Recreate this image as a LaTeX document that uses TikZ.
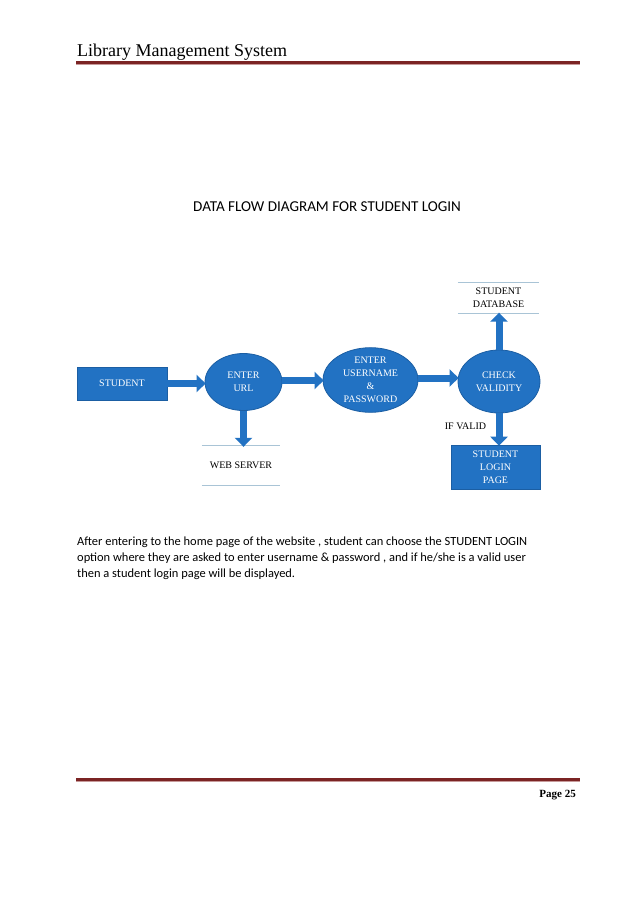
\documentclass[tikz,border=0pt]{standalone}
\usepackage{fontspec}
\setmainfont{Carlito}
\newfontfamily\tnr{Liberation Serif}
\usetikzlibrary{shapes.geometric,arrows.meta}
\definecolor{dfdblue}{HTML}{2272C3}
\definecolor{dfdedge}{HTML}{1B5EA3}
\definecolor{rulered}{HTML}{7B2424}
\definecolor{ruleshade}{HTML}{C79A9A}
\definecolor{storeline}{HTML}{A9C4D6}
\tikzset{
  procbox/.style={ellipse, fill=dfdblue, draw=dfdedge, line width=0.8pt, inner sep=0pt, text=white, font=\tnr\fontsize{10}{13}\selectfont, align=center},
  entbox/.style={rectangle, fill=dfdblue, draw=dfdedge, line width=0.6pt, inner sep=0pt, text=white, font=\tnr\fontsize{10}{13}\selectfont, align=center},
  storebox/.style={rectangle, inner sep=0pt, font=\tnr\fontsize{10}{13}\selectfont, align=center},
  storeline/.style={draw=storeline, line width=1pt},
  bigarrow/.style={draw=dfdblue, line width=7pt, -{Triangle[length=9pt,width=17pt]}, shorten >=-1pt},
  bodytext/.style={anchor=base west, inner sep=0pt, font=\fontsize{12.45}{15}\selectfont},
}
\begin{document}
\begin{tikzpicture}[x=1pt,y=-1pt]
\useasboundingbox[fill=white] (0,0) rectangle (638,902);
% header
\node[anchor=base west, inner sep=0pt, font=\tnr\fontsize{18}{20}\selectfont] (hdr) at (77,56) {Library Management System};
\coordinate (hl) at (76,62);
\coordinate (hr) at (580,62);
\draw[rulered, line width=3pt] (hl) -- (hr);
\draw[ruleshade, line width=1pt] ([yshift=-2.5pt]hl) -- ([yshift=-2.5pt]hr);
% title
\node[anchor=base west, inner sep=0pt, font=\fontsize{15.1}{17}\selectfont] (title) at (193,211) {DATA FLOW DIAGRAM FOR STUDENT LOGIN};
% diagram nodes
\node[entbox, minimum width=90pt, minimum height=33pt] (student) at (122,383.5) {STUDENT};
\node[procbox, minimum width=77pt, minimum height=57pt] (url) at (243.5,382) {ENTER\\URL};
\node[procbox, minimum width=95pt, minimum height=54pt] (user) at (370.5,380) {ENTER\\USERNAME\\\&\\PASSWORD};
\node[procbox, minimum width=82pt, minimum height=63pt] (check) at (499,381.5) {CHECK\\VALIDITY};
\node[storebox, minimum width=81pt, minimum height=31pt] (db) at (498.5,298) {STUDENT\\DATABASE};
\draw[storeline] (db.north west) -- (db.north east);
\draw[storeline] (db.south west) -- (db.south east);
\node[storebox, minimum width=78pt, minimum height=39pt] (web) at (241,465.5) {WEB SERVER};
\draw[storeline] (web.north west) -- (web.north east);
\draw[storeline] (web.south west) -- (web.south east);
\node[entbox, minimum width=89pt, minimum height=44pt] (page) at (495.5,467) {STUDENT\\LOGIN\\PAGE};
% flows
\draw[bigarrow] (student.east) -- (student.east -| url.west);
\draw[bigarrow] ([yshift=1.5pt]url.east) -- ([yshift=1.5pt]url.east -| user.west);
\draw[bigarrow] ([yshift=2pt]user.east) -- ([yshift=2pt]user.east -| check.west);
\draw[bigarrow] (check.north) -- (check.north |- db.south);
\draw[bigarrow] (check.south) -- (check.south |- page.north);
\draw[bigarrow] (url.south) -- (url.south |- web.north);
\node[font=\tnr\fontsize{10}{12}\selectfont, inner sep=0pt] (ifvalid) at (465.5,426) {IF VALID};
% paragraph
\node[bodytext] (p1) at (77,545) {After entering to the home page of the website , student can choose the STUDENT LOGIN};
\node[bodytext] (p2) at (77,561) {option where they are asked to enter username \& password , and if he/she is a valid user};
\node[bodytext] (p3) at (77,577) {then a student login page will be displayed.};
% footer
\coordinate (fl) at (76,779);
\coordinate (fr) at (580,779);
\draw[rulered, line width=3pt] (fl) -- (fr);
\draw[ruleshade, line width=1pt] ([yshift=-2.5pt]fl) -- ([yshift=-2.5pt]fr);
\node[anchor=base east, inner sep=0pt, font=\tnr\bfseries\fontsize{11}{13}\selectfont] (pg) at (576,797) {Page 25};
\end{tikzpicture}
\end{document}
